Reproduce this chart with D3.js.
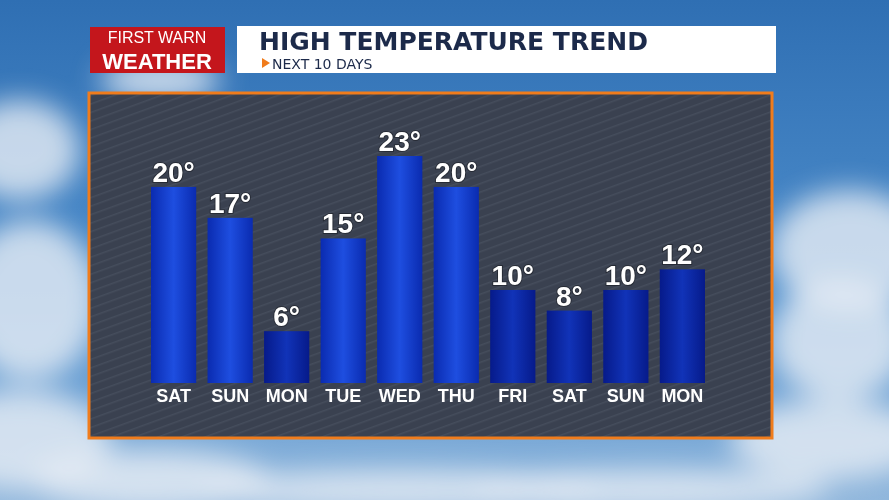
<!DOCTYPE html>
<html><head><meta charset="utf-8">
<script src="https://cdn.jsdelivr.net/npm/d3@7"></script>
<style>body{margin:0;overflow:hidden}</style>
</head><body>
<svg id="chart" width="889" height="500"></svg>
<script>
// data
var days = ["SAT", "SUN", "MON", "TUE", "WED", "THU", "FRI", "SAT", "SUN", "MON"];
var temps = [20, 17, 6, 15, 23, 20, 10, 8, 10, 12];

var svg = d3.select("#chart");
var defs = svg.append("defs");

// sky
var sky = defs.append("linearGradient").attr("id", "sky").attr("x1", 0).attr("y1", 0).attr("x2", 0).attr("y2", 1);
sky.append("stop").attr("offset", 0).attr("stop-color", "#2f6fb3");
sky.append("stop").attr("offset", 0.6).attr("stop-color", "#4f8fcd");
sky.append("stop").attr("offset", 1).attr("stop-color", "#8fb6dc");
svg.append("rect").attr("width", 889).attr("height", 500).attr("fill", "url(#sky)");

defs.append("filter").attr("id", "blur").append("feGaussianBlur").attr("stdDeviation", 14);
var clouds = [[20,150,60,50],[30,300,70,80],[20,440,90,50],[150,480,120,30],[850,250,80,60],[840,340,70,60],[830,440,100,40],[400,490,200,20],[650,490,180,20],[160,80,60,22]];
svg.append("g").attr("filter", "url(#blur)").selectAll("ellipse").data(clouds).join("ellipse")
  .attr("cx", d => d[0]).attr("cy", d => d[1]).attr("rx", d => d[2]).attr("ry", d => d[3])
  .attr("fill", "#e8eef5").attr("opacity", 0.8);

// header
svg.append("rect").attr("x", 90).attr("y", 27).attr("width", 135).attr("height", 46).attr("fill", "#c4161c");
svg.append("text").attr("x", 157).attr("y", 43).attr("text-anchor", "middle").attr("fill", "#fff")
  .style("font", "16px 'Liberation Sans Narrow', Arial").text("FIRST WARN");
svg.append("text").attr("x", 157).attr("y", 69).attr("text-anchor", "middle").attr("fill", "#fff")
  .style("font", "bold 22px 'Liberation Sans Narrow', Arial").text("WEATHER");
svg.append("rect").attr("x", 237).attr("y", 26).attr("width", 539).attr("height", 47).attr("fill", "#fff");
svg.append("text").attr("x", 259).attr("y", 50).attr("fill", "#1c2a4a")
  .style("font", "bold 25px 'DejaVu Sans', sans-serif").text("HIGH TEMPERATURE TREND");
svg.append("path").attr("d", "M262,58 L270,63 L262,68 Z").attr("fill", "#f07c1c");
svg.append("text").attr("x", 272).attr("y", 69).attr("fill", "#1c2a4a")
  .style("font", "14px 'DejaVu Sans', sans-serif").text("NEXT 10 DAYS");

// panel
var stripes = defs.append("pattern").attr("id", "stripes").attr("patternUnits", "userSpaceOnUse")
  .attr("width", 8).attr("height", 8).attr("patternTransform", "rotate(-20)");
stripes.append("rect").attr("width", 8).attr("height", 8).attr("fill", "#3a4150");
stripes.append("rect").attr("width", 8).attr("height", 1.5).attr("fill", "#454d5c");
svg.append("rect").attr("x", 89).attr("y", 93).attr("width", 683).attr("height", 345)
  .attr("fill", "url(#stripes)").attr("stroke", "#f07c1c").attr("stroke-width", 3);

// bars
var x = d3.scaleBand().domain(d3.range(days.length)).range([151, 705]).paddingInner(0.2).paddingOuter(0);
var y = d3.scaleLinear().domain([0, 23]).range([393, 156]);
var base = 383;

var bg = defs.append("linearGradient").attr("id", "bar");
bg.append("stop").attr("offset", 0).attr("stop-color", "#0a2bb0");
bg.append("stop").attr("offset", 0.5).attr("stop-color", "#1e4ee0");
bg.append("stop").attr("offset", 1).attr("stop-color", "#0a2bb0");
var dg = defs.append("linearGradient").attr("id", "barDark");
dg.append("stop").attr("offset", 0).attr("stop-color", "#061a8a");
dg.append("stop").attr("offset", 0.5).attr("stop-color", "#1133b8");
dg.append("stop").attr("offset", 1).attr("stop-color", "#061a8a");

svg.append("g").selectAll("rect").data(temps).join("rect")
  .attr("x", (d, i) => x(i)).attr("width", x.bandwidth())
  .attr("y", d => y(d)).attr("height", d => base - y(d))
  .attr("fill", d => d < 13 ? "url(#barDark)" : "url(#bar)");

svg.append("g").selectAll("text").data(temps).join("text")
  .attr("x", (d, i) => x(i) + x.bandwidth() / 2).attr("y", d => y(d) - 5)
  .attr("text-anchor", "middle").attr("fill", "#fff")
  .style("font", "bold 28px 'Liberation Sans', Arial, sans-serif")
  .style("paint-order", "stroke").attr("stroke", "rgba(0,0,0,0.35)").attr("stroke-width", 2)
  .text(d => d + "°");

svg.append("g").selectAll("text").data(days).join("text")
  .attr("x", (d, i) => x(i) + x.bandwidth() / 2).attr("y", 402)
  .attr("text-anchor", "middle").attr("fill", "#fff")
  .style("font", "bold 18px 'Liberation Sans', Arial, sans-serif")
  .text(d => d);
</script>
</body></html>
